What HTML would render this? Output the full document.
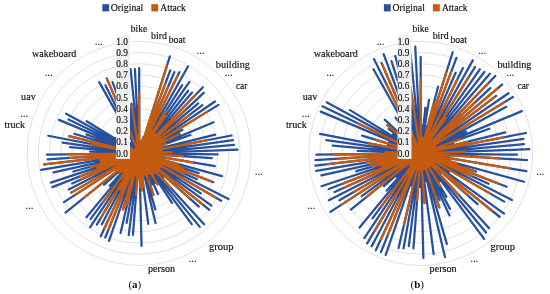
<!DOCTYPE html><html><head><meta charset="utf-8"><title>chart</title><style>html,body{margin:0;padding:0;background:#fff}svg{display:block}</style></head><body><svg width="550" height="294" viewBox="0 0 550 294">
<style>.t{font-family:"Liberation Serif",serif;font-size:9.3px;fill:#111;stroke:#111;stroke-width:0.15px}.c{font-family:"Liberation Serif",serif;font-size:11px;fill:#111}.b{font-weight:bold}</style>
<rect width="550" height="294" fill="#fff"/>
<circle cx="139.2" cy="153.4" r="11.20" fill="none" stroke="#d9d9d9" stroke-width="0.8"/>
<circle cx="139.2" cy="153.4" r="22.40" fill="none" stroke="#d9d9d9" stroke-width="0.8"/>
<circle cx="139.2" cy="153.4" r="33.60" fill="none" stroke="#d9d9d9" stroke-width="0.8"/>
<circle cx="139.2" cy="153.4" r="44.80" fill="none" stroke="#d9d9d9" stroke-width="0.8"/>
<circle cx="139.2" cy="153.4" r="56.00" fill="none" stroke="#d9d9d9" stroke-width="0.8"/>
<circle cx="139.2" cy="153.4" r="67.20" fill="none" stroke="#d9d9d9" stroke-width="0.8"/>
<circle cx="139.2" cy="153.4" r="78.40" fill="none" stroke="#d9d9d9" stroke-width="0.8"/>
<circle cx="139.2" cy="153.4" r="89.60" fill="none" stroke="#d9d9d9" stroke-width="0.8"/>
<circle cx="139.2" cy="153.4" r="100.80" fill="none" stroke="#d9d9d9" stroke-width="0.8"/>
<circle cx="139.2" cy="153.4" r="112.00" fill="none" stroke="#d9d9d9" stroke-width="0.8"/>
<path d="M139.2,153.4L139.20,68.17M139.2,153.4L139.77,142.21M139.2,153.4L140.34,142.26M139.2,153.4L140.91,142.33M139.2,153.4L141.93,140.24M139.2,153.4L143.44,137.15M139.2,153.4L169.88,56.44M139.2,153.4L170.17,70.52M139.2,153.4L174.36,72.21M139.2,153.4L179.45,72.10M139.2,153.4L187.93,66.45M139.2,153.4L182.17,85.16M139.2,153.4L189.46,81.95M139.2,153.4L188.21,90.78M139.2,153.4L192.08,92.52M139.2,153.4L202.88,87.23M139.2,153.4L203.73,92.86M139.2,153.4L198.19,103.47M139.2,153.4L202.44,105.19M139.2,153.4L214.99,101.53M139.2,153.4L218.49,104.88M139.2,153.4L182.49,129.86M139.2,153.4L179.60,134.04M139.2,153.4L213.60,122.30M139.2,153.4L190.32,135.04M139.2,153.4L160.64,146.91M139.2,153.4L215.30,134.56M139.2,153.4L231.56,135.49M139.2,153.4L232.91,140.15M139.2,153.4L234.02,144.90M139.2,153.4L237.69,149.62M139.2,153.4L217.59,154.40M139.2,153.4L211.85,158.05M139.2,153.4L155.89,155.33M139.2,153.4L214.87,166.08M139.2,153.4L155.61,157.02M139.2,153.4L221.93,176.13M139.2,153.4L198.75,173.09M139.2,153.4L213.33,182.18M139.2,153.4L196.94,179.29M139.2,153.4L228.46,199.02M139.2,153.4L221.26,200.78M139.2,153.4L200.87,193.34M139.2,153.4L211.46,205.62M139.2,153.4L209.40,209.80M139.2,153.4L198.90,206.60M139.2,153.4L163.11,177.01M139.2,153.4L204.05,224.32M139.2,153.4L199.77,226.85M139.2,153.4L191.74,224.18M139.2,153.4L172.10,202.81M139.2,153.4L157.51,184.21M139.2,153.4L154.87,183.12M139.2,153.4L158.05,194.04M139.2,153.4L151.76,184.56M139.2,153.4L153.44,194.69M139.2,153.4L155.35,209.36M139.2,153.4L155.53,223.19M139.2,153.4L143.18,175.44M139.2,153.4L148.26,223.94M139.2,153.4L142.03,190.25M139.2,153.4L141.56,245.88M139.2,153.4L138.63,175.79M139.2,153.4L132.94,234.92M139.2,153.4L128.72,235.05M139.2,153.4L126.65,222.84M139.2,153.4L120.57,233.01M139.2,153.4L123.05,209.36M139.2,153.4L109.01,240.96M139.2,153.4L105.29,237.54M139.2,153.4L100.80,236.21M139.2,153.4L101.85,224.23M139.2,153.4L96.85,224.64M139.2,153.4L90.16,227.05M139.2,153.4L90.47,219.05M139.2,153.4L86.47,217.34M139.2,153.4L109.72,185.64M139.2,153.4L119.27,173.07M139.2,153.4L104.08,184.70M139.2,153.4L65.51,212.61M139.2,153.4L116.51,169.80M139.2,153.4L63.99,202.10M139.2,153.4L71.30,192.60M139.2,153.4L68.69,189.44M139.2,153.4L72.16,183.46M139.2,153.4L52.33,187.13M139.2,153.4L50.83,182.61M139.2,153.4L73.32,171.50M139.2,153.4L53.56,172.29M139.2,153.4L41.11,169.84M139.2,153.4L44.07,164.38M139.2,153.4L47.55,159.26M139.2,153.4L46.81,154.58M139.2,153.4L89.96,151.51M139.2,153.4L70.04,147.20M139.2,153.4L62.68,142.58M139.2,153.4L48.27,135.77M139.2,153.4L69.18,136.07M139.2,153.4L74.34,133.78M139.2,153.4L86.50,134.47M139.2,153.4L59.01,119.88M139.2,153.4L68.50,119.51M139.2,153.4L66.09,113.65M139.2,153.4L86.66,121.25M139.2,153.4L116.09,137.58M139.2,153.4L125.84,143.22M139.2,153.4L128.94,144.72M139.2,153.4L129.40,144.20M139.2,153.4L129.88,143.72M139.2,153.4L130.39,143.25M139.2,153.4L130.92,142.82M139.2,153.4L131.47,142.41M139.2,153.4L132.04,142.03M139.2,153.4L99.23,82.08M139.2,153.4L105.41,85.15M139.2,153.4L106.71,78.37M139.2,153.4L112.54,82.06M139.2,153.4L122.30,100.01M139.2,153.4L125.05,99.22M139.2,153.4L127.84,98.56M139.2,153.4L131.51,103.59M139.2,153.4L130.56,69.17M139.2,153.4L134.89,69.17" stroke="#27519d" stroke-width="2.25" stroke-linecap="round" fill="none"/>
<path d="M139.2,153.4L139.20,93.70M139.2,153.4L139.77,142.21M139.2,153.4L140.34,142.26M139.2,153.4L140.91,142.33M139.2,153.4L141.93,140.24M139.2,153.4L143.44,137.15M139.2,153.4L166.91,65.84M139.2,153.4L165.07,84.16M139.2,153.4L167.68,87.62M139.2,153.4L177.47,76.11M139.2,153.4L151.25,131.91M139.2,153.4L165.75,111.22M139.2,153.4L165.62,115.84M139.2,153.4L154.39,134.00M139.2,153.4L155.36,134.80M139.2,153.4L195.90,94.49M139.2,153.4L184.53,110.87M139.2,153.4L158.01,137.48M139.2,153.4L189.08,115.38M139.2,153.4L159.53,139.48M139.2,153.4L207.03,111.89M139.2,153.4L163.80,140.02M139.2,153.4L178.08,134.76M139.2,153.4L159.87,144.76M139.2,153.4L165.55,143.94M139.2,153.4L160.64,146.91M139.2,153.4L160.94,148.02M139.2,153.4L207.37,140.18M139.2,153.4L161.38,150.26M139.2,153.4L161.51,151.40M139.2,153.4L171.66,152.16M139.2,153.4L161.60,153.69M139.2,153.4L182.79,156.19M139.2,153.4L155.89,155.33M139.2,153.4L192.77,162.38M139.2,153.4L155.61,157.02M139.2,153.4L178.08,164.08M139.2,153.4L183.86,168.16M139.2,153.4L211.24,181.37M139.2,153.4L184.17,173.56M139.2,153.4L161.14,164.61M139.2,153.4L215.24,197.30M139.2,153.4L159.88,166.79M139.2,153.4L159.17,167.83M139.2,153.4L202.32,204.12M139.2,153.4L188.95,197.74M139.2,153.4L156.73,170.71M139.2,153.4L170.19,187.29M139.2,153.4L154.88,172.41M139.2,153.4L153.89,173.19M139.2,153.4L152.86,173.91M139.2,153.4L157.51,184.21M139.2,153.4L149.65,173.21M139.2,153.4L148.62,173.72M139.2,153.4L147.57,174.18M139.2,153.4L153.44,194.69M139.2,153.4L145.41,174.92M139.2,153.4L144.30,175.21M139.2,153.4L143.18,175.44M139.2,153.4L143.48,186.73M139.2,153.4L142.03,190.25M139.2,153.4L140.06,186.99M139.2,153.4L138.63,175.79M139.2,153.4L136.03,194.72M139.2,153.4L136.35,175.62M139.2,153.4L135.22,175.44M139.2,153.4L127.21,204.66M139.2,153.4L123.05,209.36M139.2,153.4L131.17,176.69M139.2,153.4L109.06,228.19M139.2,153.4L104.62,227.98M139.2,153.4L120.13,189.56M139.2,153.4L101.43,216.94M139.2,153.4L125.54,173.91M139.2,153.4L103.49,201.51M139.2,153.4L123.52,172.41M139.2,153.4L122.57,171.58M139.2,153.4L119.27,173.07M139.2,153.4L120.80,169.79M139.2,153.4L84.37,197.45M139.2,153.4L116.51,169.80M139.2,153.4L76.50,194.01M139.2,153.4L71.30,192.60M139.2,153.4L117.26,164.61M139.2,153.4L80.95,179.51M139.2,153.4L80.73,176.10M139.2,153.4L96.66,167.46M139.2,153.4L90.60,166.76M139.2,153.4L100.92,161.84M139.2,153.4L100.54,159.88M139.2,153.4L44.63,164.32M139.2,153.4L69.90,157.83M139.2,153.4L67.53,154.32M139.2,153.4L116.82,152.54M139.2,153.4L116.89,151.40M139.2,153.4L117.02,150.26M139.2,153.4L91.37,144.12M139.2,153.4L69.18,136.07M139.2,153.4L117.76,146.91M139.2,153.4L118.12,145.83M139.2,153.4L118.53,144.76M139.2,153.4L119.00,143.72M139.2,153.4L119.52,142.70M139.2,153.4L120.09,141.71M139.2,153.4L134.58,150.24M139.2,153.4L134.75,150.01M139.2,153.4L134.93,149.78M139.2,153.4L135.12,149.57M139.2,153.4L135.32,149.37M139.2,153.4L135.53,149.17M139.2,153.4L135.75,148.99M139.2,153.4L135.98,148.82M139.2,153.4L136.22,148.66M139.2,153.4L136.46,148.51M139.2,153.4L136.72,148.38M139.2,153.4L107.16,79.40M139.2,153.4L137.24,148.15M139.2,153.4L138.19,150.20M139.2,153.4L138.35,150.15M139.2,153.4L138.52,150.11M139.2,153.4L131.85,105.80M139.2,153.4L138.86,150.06M139.2,153.4L139.03,150.04" stroke="#c55a11" stroke-width="2.25" stroke-linecap="round" fill="none"/>
<rect x="116.1" y="35.4" width="13.9" height="123.5" fill="#f0f0f0"/>
<text x="127.8" y="156.6" text-anchor="end" class="t">0.0</text>
<text x="127.8" y="145.4" text-anchor="end" class="t">0.1</text>
<text x="127.8" y="134.2" text-anchor="end" class="t">0.2</text>
<text x="127.8" y="123.0" text-anchor="end" class="t">0.3</text>
<text x="127.8" y="111.8" text-anchor="end" class="t">0.4</text>
<text x="127.8" y="100.6" text-anchor="end" class="t">0.5</text>
<text x="127.8" y="89.4" text-anchor="end" class="t">0.6</text>
<text x="127.8" y="78.2" text-anchor="end" class="t">0.7</text>
<text x="127.8" y="67.0" text-anchor="end" class="t">0.8</text>
<text x="127.8" y="55.8" text-anchor="end" class="t">0.9</text>
<text x="127.8" y="44.6" text-anchor="end" class="t">1.0</text>
<circle cx="420.7" cy="153.4" r="11.20" fill="none" stroke="#d9d9d9" stroke-width="0.8"/>
<circle cx="420.7" cy="153.4" r="22.40" fill="none" stroke="#d9d9d9" stroke-width="0.8"/>
<circle cx="420.7" cy="153.4" r="33.60" fill="none" stroke="#d9d9d9" stroke-width="0.8"/>
<circle cx="420.7" cy="153.4" r="44.80" fill="none" stroke="#d9d9d9" stroke-width="0.8"/>
<circle cx="420.7" cy="153.4" r="56.00" fill="none" stroke="#d9d9d9" stroke-width="0.8"/>
<circle cx="420.7" cy="153.4" r="67.20" fill="none" stroke="#d9d9d9" stroke-width="0.8"/>
<circle cx="420.7" cy="153.4" r="78.40" fill="none" stroke="#d9d9d9" stroke-width="0.8"/>
<circle cx="420.7" cy="153.4" r="89.60" fill="none" stroke="#d9d9d9" stroke-width="0.8"/>
<circle cx="420.7" cy="153.4" r="100.80" fill="none" stroke="#d9d9d9" stroke-width="0.8"/>
<circle cx="420.7" cy="153.4" r="112.00" fill="none" stroke="#d9d9d9" stroke-width="0.8"/>
<path d="M420.7,153.4L420.70,56.86M420.7,153.4L422.13,125.44M420.7,153.4L425.38,107.72M420.7,153.4L428.97,99.83M420.7,153.4L426.38,125.98M420.7,153.4L438.10,86.75M420.7,153.4L452.70,52.28M420.7,153.4L456.41,57.82M420.7,153.4L455.59,72.82M420.7,153.4L462.94,68.09M420.7,153.4L472.83,60.39M420.7,153.4L475.12,66.96M420.7,153.4L479.85,69.30M420.7,153.4L484.41,71.99M420.7,153.4L489.88,73.75M420.7,153.4L495.26,75.93M420.7,153.4L490.29,88.11M420.7,153.4L502.09,84.52M420.7,153.4L496.14,95.89M420.7,153.4L508.50,93.30M420.7,153.4L512.89,96.99M420.7,153.4L506.30,106.85M420.7,153.4L466.15,131.62M420.7,153.4L521.76,111.16M420.7,153.4L489.32,128.75M420.7,153.4L452.86,143.67M420.7,153.4L505.28,132.46M420.7,153.4L525.81,133.01M420.7,153.4L523.50,138.86M420.7,153.4L523.89,144.15M420.7,153.4L529.37,149.23M420.7,153.4L516.90,154.63M420.7,153.4L527.11,160.20M420.7,153.4L448.52,156.61M420.7,153.4L526.30,171.09M420.7,153.4L448.04,159.43M420.7,153.4L523.94,181.77M420.7,153.4L476.00,171.68M420.7,153.4L506.63,186.76M420.7,153.4L488.56,183.82M420.7,153.4L511.95,200.04M420.7,153.4L504.21,201.62M420.7,153.4L448.90,171.66M420.7,153.4L504.03,213.62M420.7,153.4L499.54,216.75M420.7,153.4L477.56,204.07M420.7,153.4L440.63,173.07M420.7,153.4L489.17,228.29M420.7,153.4L485.97,232.55M420.7,153.4L484.12,238.84M420.7,153.4L439.32,181.37M420.7,153.4L446.46,196.72M420.7,153.4L449.96,208.88M420.7,153.4L449.49,215.48M420.7,153.4L439.54,200.15M420.7,153.4L439.32,207.40M420.7,153.4L446.82,243.90M420.7,153.4L444.97,257.11M420.7,153.4L425.68,180.95M420.7,153.4L433.64,254.16M420.7,153.4L424.52,203.09M420.7,153.4L423.37,257.86M420.7,153.4L419.84,186.99M420.7,153.4L413.41,248.32M420.7,153.4L408.79,246.16M420.7,153.4L403.55,248.29M420.7,153.4L398.55,248.06M420.7,153.4L411.38,185.68M420.7,153.4L385.69,254.94M420.7,153.4L380.93,252.09M420.7,153.4L375.80,250.23M420.7,153.4L371.70,246.33M420.7,153.4L367.19,243.41M420.7,153.4L364.34,238.05M420.7,153.4L372.44,218.42M420.7,153.4L359.56,227.54M420.7,153.4L386.69,190.59M420.7,153.4L396.79,177.01M420.7,153.4L383.91,186.19M420.7,153.4L350.85,209.52M420.7,153.4L361.69,196.04M420.7,153.4L330.36,211.91M420.7,153.4L339.42,200.33M420.7,153.4L328.85,200.35M420.7,153.4L334.55,192.02M420.7,153.4L328.82,189.07M420.7,153.4L321.48,186.20M420.7,153.4L356.33,171.09M420.7,153.4L321.39,175.31M420.7,153.4L316.20,170.91M420.7,153.4L315.45,165.55M420.7,153.4L315.41,160.13M420.7,153.4L316.32,154.73M420.7,153.4L357.69,150.98M420.7,153.4L332.91,145.53M420.7,153.4L326.33,140.05M420.7,153.4L320.09,133.89M420.7,153.4L388.08,145.33M420.7,153.4L362.06,135.66M420.7,153.4L389.08,142.04M420.7,153.4L320.67,111.59M420.7,153.4L322.43,106.30M420.7,153.4L326.64,102.25M420.7,153.4L350.01,110.14M420.7,153.4L392.97,134.42M420.7,153.4L388.63,128.96M420.7,153.4L387.36,125.18M420.7,153.4L384.76,119.68M420.7,153.4L409.05,141.30M420.7,153.4L409.68,140.72M420.7,153.4L410.35,140.17M420.7,153.4L395.57,117.67M420.7,153.4L411.75,139.18M420.7,153.4L373.50,69.18M420.7,153.4L373.99,59.05M420.7,153.4L381.58,63.06M420.7,153.4L383.66,54.25M420.7,153.4L391.50,61.14M420.7,153.4L395.29,56.09M420.7,153.4L408.20,93.08M420.7,153.4L410.44,86.99M420.7,153.4L410.58,54.69M420.7,153.4L415.24,46.58" stroke="#27519d" stroke-width="2.25" stroke-linecap="round" fill="none"/>
<path d="M420.7,153.4L420.70,79.48M420.7,153.4L421.50,137.74M420.7,153.4L422.30,137.80M420.7,153.4L423.09,137.90M420.7,153.4L423.88,138.05M420.7,153.4L433.72,103.55M420.7,153.4L446.11,73.10M420.7,153.4L451.16,71.88M420.7,153.4L426.93,139.01M420.7,153.4L456.98,80.13M420.7,153.4L428.37,139.72M420.7,153.4L468.44,77.58M420.7,153.4L445.83,117.67M420.7,153.4L430.36,141.05M420.7,153.4L430.98,141.56M420.7,153.4L487.49,84.00M420.7,153.4L474.28,103.13M420.7,153.4L497.30,88.57M420.7,153.4L494.10,97.45M420.7,153.4L433.64,144.54M420.7,153.4L503.43,102.77M420.7,153.4L434.48,145.91M420.7,153.4L434.84,146.62M420.7,153.4L435.17,147.35M420.7,153.4L460.75,139.01M420.7,153.4L435.71,148.86M420.7,153.4L467.45,141.83M420.7,153.4L503.38,137.36M420.7,153.4L436.23,151.20M420.7,153.4L436.32,152.00M420.7,153.4L465.47,151.68M420.7,153.4L436.38,153.60M420.7,153.4L498.94,158.40M420.7,153.4L436.28,155.20M420.7,153.4L508.52,168.11M420.7,153.4L436.01,156.78M420.7,153.4L456.34,163.19M420.7,153.4L473.87,170.98M420.7,153.4L498.48,183.60M420.7,153.4L470.78,175.85M420.7,153.4L434.66,160.54M420.7,153.4L489.66,193.22M420.7,153.4L433.86,161.92M420.7,153.4L433.41,162.58M420.7,153.4L491.94,210.64M420.7,153.4L466.85,194.53M420.7,153.4L431.86,164.42M420.7,153.4L457.73,193.90M420.7,153.4L430.68,165.50M420.7,153.4L430.05,165.99M420.7,153.4L429.39,166.45M420.7,153.4L440.16,186.13M420.7,153.4L428.01,167.27M420.7,153.4L427.30,167.62M420.7,153.4L426.56,167.94M420.7,153.4L439.32,207.40M420.7,153.4L425.05,168.47M420.7,153.4L424.27,168.67M420.7,153.4L423.49,168.83M420.7,153.4L422.70,168.95M420.7,153.4L424.52,203.09M420.7,153.4L421.10,169.07M420.7,153.4L420.30,169.07M420.7,153.4L417.06,200.86M420.7,153.4L418.70,168.95M420.7,153.4L417.91,168.83M420.7,153.4L404.11,224.29M420.7,153.4L416.35,168.47M420.7,153.4L415.59,168.22M420.7,153.4L388.21,234.01M420.7,153.4L381.03,238.95M420.7,153.4L413.39,167.27M420.7,153.4L374.91,230.42M420.7,153.4L412.01,166.45M420.7,153.4L381.32,206.46M420.7,153.4L410.72,165.50M420.7,153.4L410.12,164.97M420.7,153.4L409.54,164.42M420.7,153.4L408.99,163.83M420.7,153.4L366.13,197.24M420.7,153.4L407.99,162.58M420.7,153.4L341.92,204.42M420.7,153.4L354.36,191.70M420.7,153.4L406.74,160.54M420.7,153.4L344.77,187.44M420.7,153.4L342.81,183.64M420.7,153.4L382.42,166.06M420.7,153.4L372.10,166.76M420.7,153.4L371.48,164.26M420.7,153.4L366.57,162.47M420.7,153.4L327.91,164.11M420.7,153.4L339.22,158.61M420.7,153.4L333.91,154.51M420.7,153.4L385.33,152.04M420.7,153.4L405.08,152.00M420.7,153.4L405.17,151.20M420.7,153.4L368.69,143.31M420.7,153.4L405.48,149.63M420.7,153.4L376.00,139.88M420.7,153.4L405.94,148.10M420.7,153.4L406.23,147.35M420.7,153.4L357.68,123.19M420.7,153.4L406.92,145.91M420.7,153.4L407.33,145.22M420.7,153.4L411.46,147.07M420.7,153.4L408.23,143.89M420.7,153.4L387.36,125.18M420.7,153.4L409.26,142.67M420.7,153.4L416.82,149.37M420.7,153.4L417.03,149.17M420.7,153.4L417.25,148.99M420.7,153.4L411.68,140.57M420.7,153.4L417.72,148.66M420.7,153.4L417.96,148.51M420.7,153.4L386.41,84.14M420.7,153.4L382.38,64.91M420.7,153.4L418.74,148.15M420.7,153.4L419.01,148.06M420.7,153.4L419.29,147.98M420.7,153.4L419.56,147.92M420.7,153.4L411.47,93.63M420.7,153.4L420.13,147.83M420.7,153.4L420.41,147.81" stroke="#c55a11" stroke-width="2.25" stroke-linecap="round" fill="none"/>
<rect x="397.6" y="35.4" width="13.9" height="123.5" fill="#f0f0f0"/>
<text x="409.3" y="156.6" text-anchor="end" class="t">0.0</text>
<text x="409.3" y="145.4" text-anchor="end" class="t">0.1</text>
<text x="409.3" y="134.2" text-anchor="end" class="t">0.2</text>
<text x="409.3" y="123.0" text-anchor="end" class="t">0.3</text>
<text x="409.3" y="111.8" text-anchor="end" class="t">0.4</text>
<text x="409.3" y="100.6" text-anchor="end" class="t">0.5</text>
<text x="409.3" y="89.4" text-anchor="end" class="t">0.6</text>
<text x="409.3" y="78.2" text-anchor="end" class="t">0.7</text>
<text x="409.3" y="67.0" text-anchor="end" class="t">0.8</text>
<text x="409.3" y="55.8" text-anchor="end" class="t">0.9</text>
<text x="409.3" y="44.6" text-anchor="end" class="t">1.0</text>
<text x="130.8" y="32.3" class="t" textLength="16.4" lengthAdjust="spacingAndGlyphs">bike</text>
<text x="151.1" y="39.3" class="t" textLength="15.9" lengthAdjust="spacingAndGlyphs">bird</text>
<text x="168.8" y="43.0" class="t" textLength="16.6" lengthAdjust="spacingAndGlyphs">boat</text>
<text x="196.8" y="54.3" class="t" textLength="7.6" lengthAdjust="spacing">...</text>
<text x="215.8" y="67.8" class="t" textLength="34.1" lengthAdjust="spacingAndGlyphs">building</text>
<text x="224.9" y="76.4" class="t" textLength="7.7" lengthAdjust="spacing">...</text>
<text x="235.9" y="89.2" class="t" textLength="11.4" lengthAdjust="spacingAndGlyphs">car</text>
<text x="255.0" y="175.1" class="t" textLength="7.7" lengthAdjust="spacing">...</text>
<text x="208.9" y="250.1" class="t" textLength="24.5" lengthAdjust="spacingAndGlyphs">group</text>
<text x="188.9" y="261.7" class="t" textLength="7.6" lengthAdjust="spacing">...</text>
<text x="148.0" y="272.0" class="t" textLength="27.1" lengthAdjust="spacingAndGlyphs">person</text>
<text x="25.8" y="209.1" class="t" textLength="7.6" lengthAdjust="spacing">...</text>
<text x="4.4" y="127.5" class="t" textLength="20.7" lengthAdjust="spacingAndGlyphs">truck</text>
<text x="20.4" y="116.8" class="t" textLength="7.6" lengthAdjust="spacing">...</text>
<text x="21.1" y="100.1" class="t" textLength="14.6" lengthAdjust="spacingAndGlyphs">uav</text>
<text x="44.9" y="75.8" class="t" textLength="7.6" lengthAdjust="spacing">...</text>
<text x="32.1" y="57.1" class="t" textLength="44.2" lengthAdjust="spacingAndGlyphs">wakeboard</text>
<text x="95.1" y="44.7" class="t" textLength="7.6" lengthAdjust="spacing">...</text>
<rect x="102.3" y="4.2" width="6.8" height="7.2" fill="#27519d"/>
<text x="110.8" y="10.7" class="t" textLength="32.5" lengthAdjust="spacingAndGlyphs">Original</text>
<rect x="151.3" y="4.2" width="6.9" height="7.2" fill="#c55a11"/>
<text x="160.3" y="10.7" class="t" textLength="25.6" lengthAdjust="spacingAndGlyphs">Attack</text>
<text x="412.4" y="32.3" class="t" textLength="16.4" lengthAdjust="spacingAndGlyphs">bike</text>
<text x="432.7" y="39.3" class="t" textLength="15.9" lengthAdjust="spacingAndGlyphs">bird</text>
<text x="450.4" y="43.0" class="t" textLength="16.6" lengthAdjust="spacingAndGlyphs">boat</text>
<text x="478.4" y="54.3" class="t" textLength="7.6" lengthAdjust="spacing">...</text>
<text x="497.4" y="67.8" class="t" textLength="34.1" lengthAdjust="spacingAndGlyphs">building</text>
<text x="506.5" y="76.4" class="t" textLength="7.7" lengthAdjust="spacing">...</text>
<text x="517.5" y="89.2" class="t" textLength="11.4" lengthAdjust="spacingAndGlyphs">car</text>
<text x="536.6" y="175.1" class="t" textLength="7.7" lengthAdjust="spacing">...</text>
<text x="490.5" y="250.1" class="t" textLength="24.5" lengthAdjust="spacingAndGlyphs">group</text>
<text x="470.5" y="261.7" class="t" textLength="7.6" lengthAdjust="spacing">...</text>
<text x="429.6" y="272.0" class="t" textLength="27.1" lengthAdjust="spacingAndGlyphs">person</text>
<text x="307.4" y="209.1" class="t" textLength="7.6" lengthAdjust="spacing">...</text>
<text x="286.0" y="127.5" class="t" textLength="20.7" lengthAdjust="spacingAndGlyphs">truck</text>
<text x="302.0" y="116.8" class="t" textLength="7.6" lengthAdjust="spacing">...</text>
<text x="302.7" y="100.1" class="t" textLength="14.6" lengthAdjust="spacingAndGlyphs">uav</text>
<text x="326.5" y="75.8" class="t" textLength="7.6" lengthAdjust="spacing">...</text>
<text x="313.7" y="57.1" class="t" textLength="44.2" lengthAdjust="spacingAndGlyphs">wakeboard</text>
<text x="376.7" y="44.7" class="t" textLength="7.6" lengthAdjust="spacing">...</text>
<rect x="383.9" y="4.2" width="6.8" height="7.2" fill="#27519d"/>
<text x="392.4" y="10.7" class="t" textLength="32.5" lengthAdjust="spacingAndGlyphs">Original</text>
<rect x="432.9" y="4.2" width="6.9" height="7.2" fill="#c55a11"/>
<text x="441.9" y="10.7" class="t" textLength="25.6" lengthAdjust="spacingAndGlyphs">Attack</text>
<text x="134.8" y="287.6" text-anchor="middle" class="c">(<tspan class="b">a</tspan>)</text>
<text x="417.3" y="287.6" text-anchor="middle" class="c">(<tspan class="b">b</tspan>)</text>
</svg></body></html>
